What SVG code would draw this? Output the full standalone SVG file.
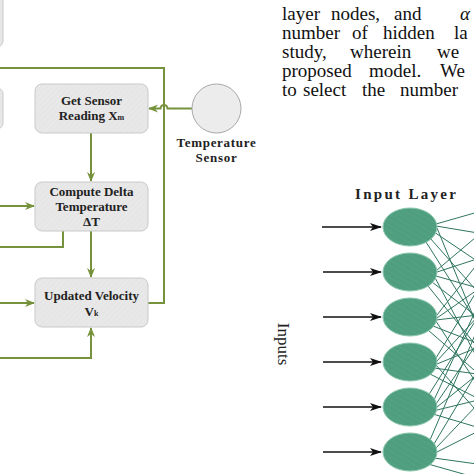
<svg xmlns="http://www.w3.org/2000/svg" width="474" height="474" viewBox="0 0 474 474">
<defs>
<style>
.box{fill:url(#hatch);stroke:#c9c9c9;stroke-width:1}
.edge{fill:none;stroke:#76923c;stroke-width:2}
.lbl{font-family:"Liberation Serif",serif;font-weight:bold;font-size:13px;fill:#222;text-anchor:middle}
.para{font-family:"Liberation Serif",serif;font-size:19px;fill:#111}
.nn{fill:url(#nhatch);stroke:#8cc7ae;stroke-width:1}
.wire{stroke:#2f7560;stroke-width:1;fill:none}
.inarrow{stroke:#111;stroke-width:1.3;fill:none}
</style>
<pattern id="hatch" width="4" height="4" patternUnits="userSpaceOnUse" patternTransform="rotate(45)">
<rect width="4" height="4" fill="#e6e6e6"/>
<line x1="0" y1="0" x2="0" y2="4" stroke="#efefef" stroke-width="1"/>
</pattern>
<pattern id="nhatch" width="5" height="5" patternUnits="userSpaceOnUse" patternTransform="rotate(30)">
<rect width="5" height="5" fill="#4f9e80"/>
<line x1="0" y1="0" x2="5" y2="0" stroke="#5aa88a" stroke-width="1"/>
</pattern>
<marker id="ga" markerWidth="10" markerHeight="10" refX="9" refY="5" orient="auto" markerUnits="userSpaceOnUse">
<path d="M0,1 L10,5 L0,9 L3,5 Z" fill="#76923c"/>
</marker>
<marker id="ka" markerWidth="12" markerHeight="10" refX="11" refY="5" orient="auto" markerUnits="userSpaceOnUse">
<path d="M0,1 L12,5 L0,9 L3,5 Z" fill="#111"/>
</marker>
</defs>

<g id="partial-box-top"><rect class="box" x="-60" y="-10" width="63" height="57" rx="6"/></g>
<g id="partial-box-mid"><rect class="box" x="-60" y="88" width="63" height="41" rx="6"/></g>

<g id="connectors">
<path class="edge" d="M148,303 H164 V68 H-2"/>
<path class="edge" d="M192,108.5 H167.5 A3.5,3.5 0 0 0 160.5,108.5 H149" marker-end="url(#ga)"/>
<path class="edge" d="M91,133 V181" marker-end="url(#ga)"/>
<path class="edge" d="M-2,206 H34" marker-end="url(#ga)"/>
<path class="edge" d="M63,231 V247 H-2"/>
<path class="edge" d="M91,231 V277" marker-end="url(#ga)"/>
<path class="edge" d="M-2,303 H34" marker-end="url(#ga)"/>
<path class="edge" d="M-2,358 H91 V328" marker-end="url(#ga)"/>
</g>

<g id="get-sensor">
<rect class="box" x="35" y="84" width="113" height="49" rx="7"/>
<text class="lbl" x="91.5" y="105">Get Sensor</text>
<text class="lbl" x="91.5" y="120">Reading X<tspan font-size="8">m</tspan></text>
</g>

<g id="temp-sensor">
<circle cx="216.5" cy="108.5" r="24.5" fill="#ececec" stroke="#a8a8a8" stroke-width="1"/>
<text class="lbl" x="216.5" y="147" font-size="11.5" letter-spacing="0.7">Temperature</text>
<text class="lbl" x="216.5" y="162" font-size="11.5" letter-spacing="0.7">Sensor</text>
</g>

<g id="compute-delta">
<rect class="box" x="35" y="182" width="113" height="49" rx="7"/>
<text class="lbl" x="91.5" y="196">Compute Delta</text>
<text class="lbl" x="91.5" y="211">Temperature</text>
<text class="lbl" x="91.5" y="226">ΔT</text>
</g>

<g id="updated-velocity">
<rect class="box" x="35" y="278" width="113" height="49" rx="7"/>
<text class="lbl" x="91.5" y="300">Updated Velocity</text>
<text class="lbl" x="91.5" y="316">V<tspan font-size="8">k</tspan></text>
</g>

<g id="paragraph">
<text class="para" y="20"><tspan x="282">layer</tspan><tspan x="331">nodes,</tspan><tspan x="394">and</tspan><tspan x="460" font-style="italic">α</tspan></text>
<text class="para" y="39"><tspan x="282">number</tspan><tspan x="352">of</tspan><tspan x="383">hidden</tspan><tspan x="454">la</tspan></text>
<text class="para" y="58"><tspan x="282">study,</tspan><tspan x="350">wherein</tspan><tspan x="437">we</tspan></text>
<text class="para" y="77"><tspan x="282">proposed</tspan><tspan x="369">model.</tspan><tspan x="440">We</tspan></text>
<text class="para" y="96"><tspan x="282">to</tspan><tspan x="303">select</tspan><tspan x="362">the</tspan><tspan x="400">number</tspan></text>
</g>

<g id="nn-wires">
<path class="wire" d="M436,224 L520,200 M436,226 L520,240 M434,232 L520,290 M430,238 L520,340 M426,242 L520,390 M437,228 L520,430"/>
<path class="wire" d="M437,270 L520,200 M437,272 L520,245 M436,276 L520,300 M432,282 L520,350 M428,286 L520,400 M430,268 L520,440"/>
<path class="wire" d="M437,315 L520,210 M437,318 L520,260 M436,320 L520,310 M433,326 L520,360 M428,330 L520,410 M430,312 L520,450"/>
<path class="wire" d="M436,358 L520,220 M437,361 L520,270 M437,364 L520,330 M434,368 L520,380 M430,374 L520,420 M428,356 L520,460"/>
<path class="wire" d="M434,400 L520,215 M436,404 L520,280 M437,407 L520,340 M437,410 L520,390 M433,414 L520,440 M428,396 L520,250"/>
<path class="wire" d="M430,440 L520,230 M434,444 L520,300 M436,448 L520,360 M437,452 L520,410 M434,458 L520,470 M428,464 L520,490"/>
</g>

<g id="input-arrows">
<path class="inarrow" d="M322,227 H381" marker-end="url(#ka)"/>
<path class="inarrow" d="M323,272 H381" marker-end="url(#ka)"/>
<path class="inarrow" d="M323,317 H381" marker-end="url(#ka)"/>
<path class="inarrow" d="M323,362 H381" marker-end="url(#ka)"/>
<path class="inarrow" d="M323,407 H381" marker-end="url(#ka)"/>
<path class="inarrow" d="M323,452 H381" marker-end="url(#ka)"/>
</g>

<g id="n1"><ellipse class="nn" cx="410" cy="227" rx="27" ry="19"/></g>
<g id="n2"><ellipse class="nn" cx="410" cy="272" rx="27" ry="19"/></g>
<g id="n3"><ellipse class="nn" cx="410" cy="317" rx="27" ry="19"/></g>
<g id="n4"><ellipse class="nn" cx="410" cy="362" rx="27" ry="19"/></g>
<g id="n5"><ellipse class="nn" cx="410" cy="407" rx="27" ry="19"/></g>
<g id="n6"><ellipse class="nn" cx="410" cy="452" rx="27" ry="19"/></g>

<text x="355" y="199" font-family="Liberation Serif,serif" font-weight="bold" font-size="15" letter-spacing="2.3" fill="#222">Input Layer</text>
<text transform="translate(278,344) rotate(90)" text-anchor="middle" font-family="Liberation Serif,serif" font-size="17" fill="#222">Inputs</text>
</svg>
